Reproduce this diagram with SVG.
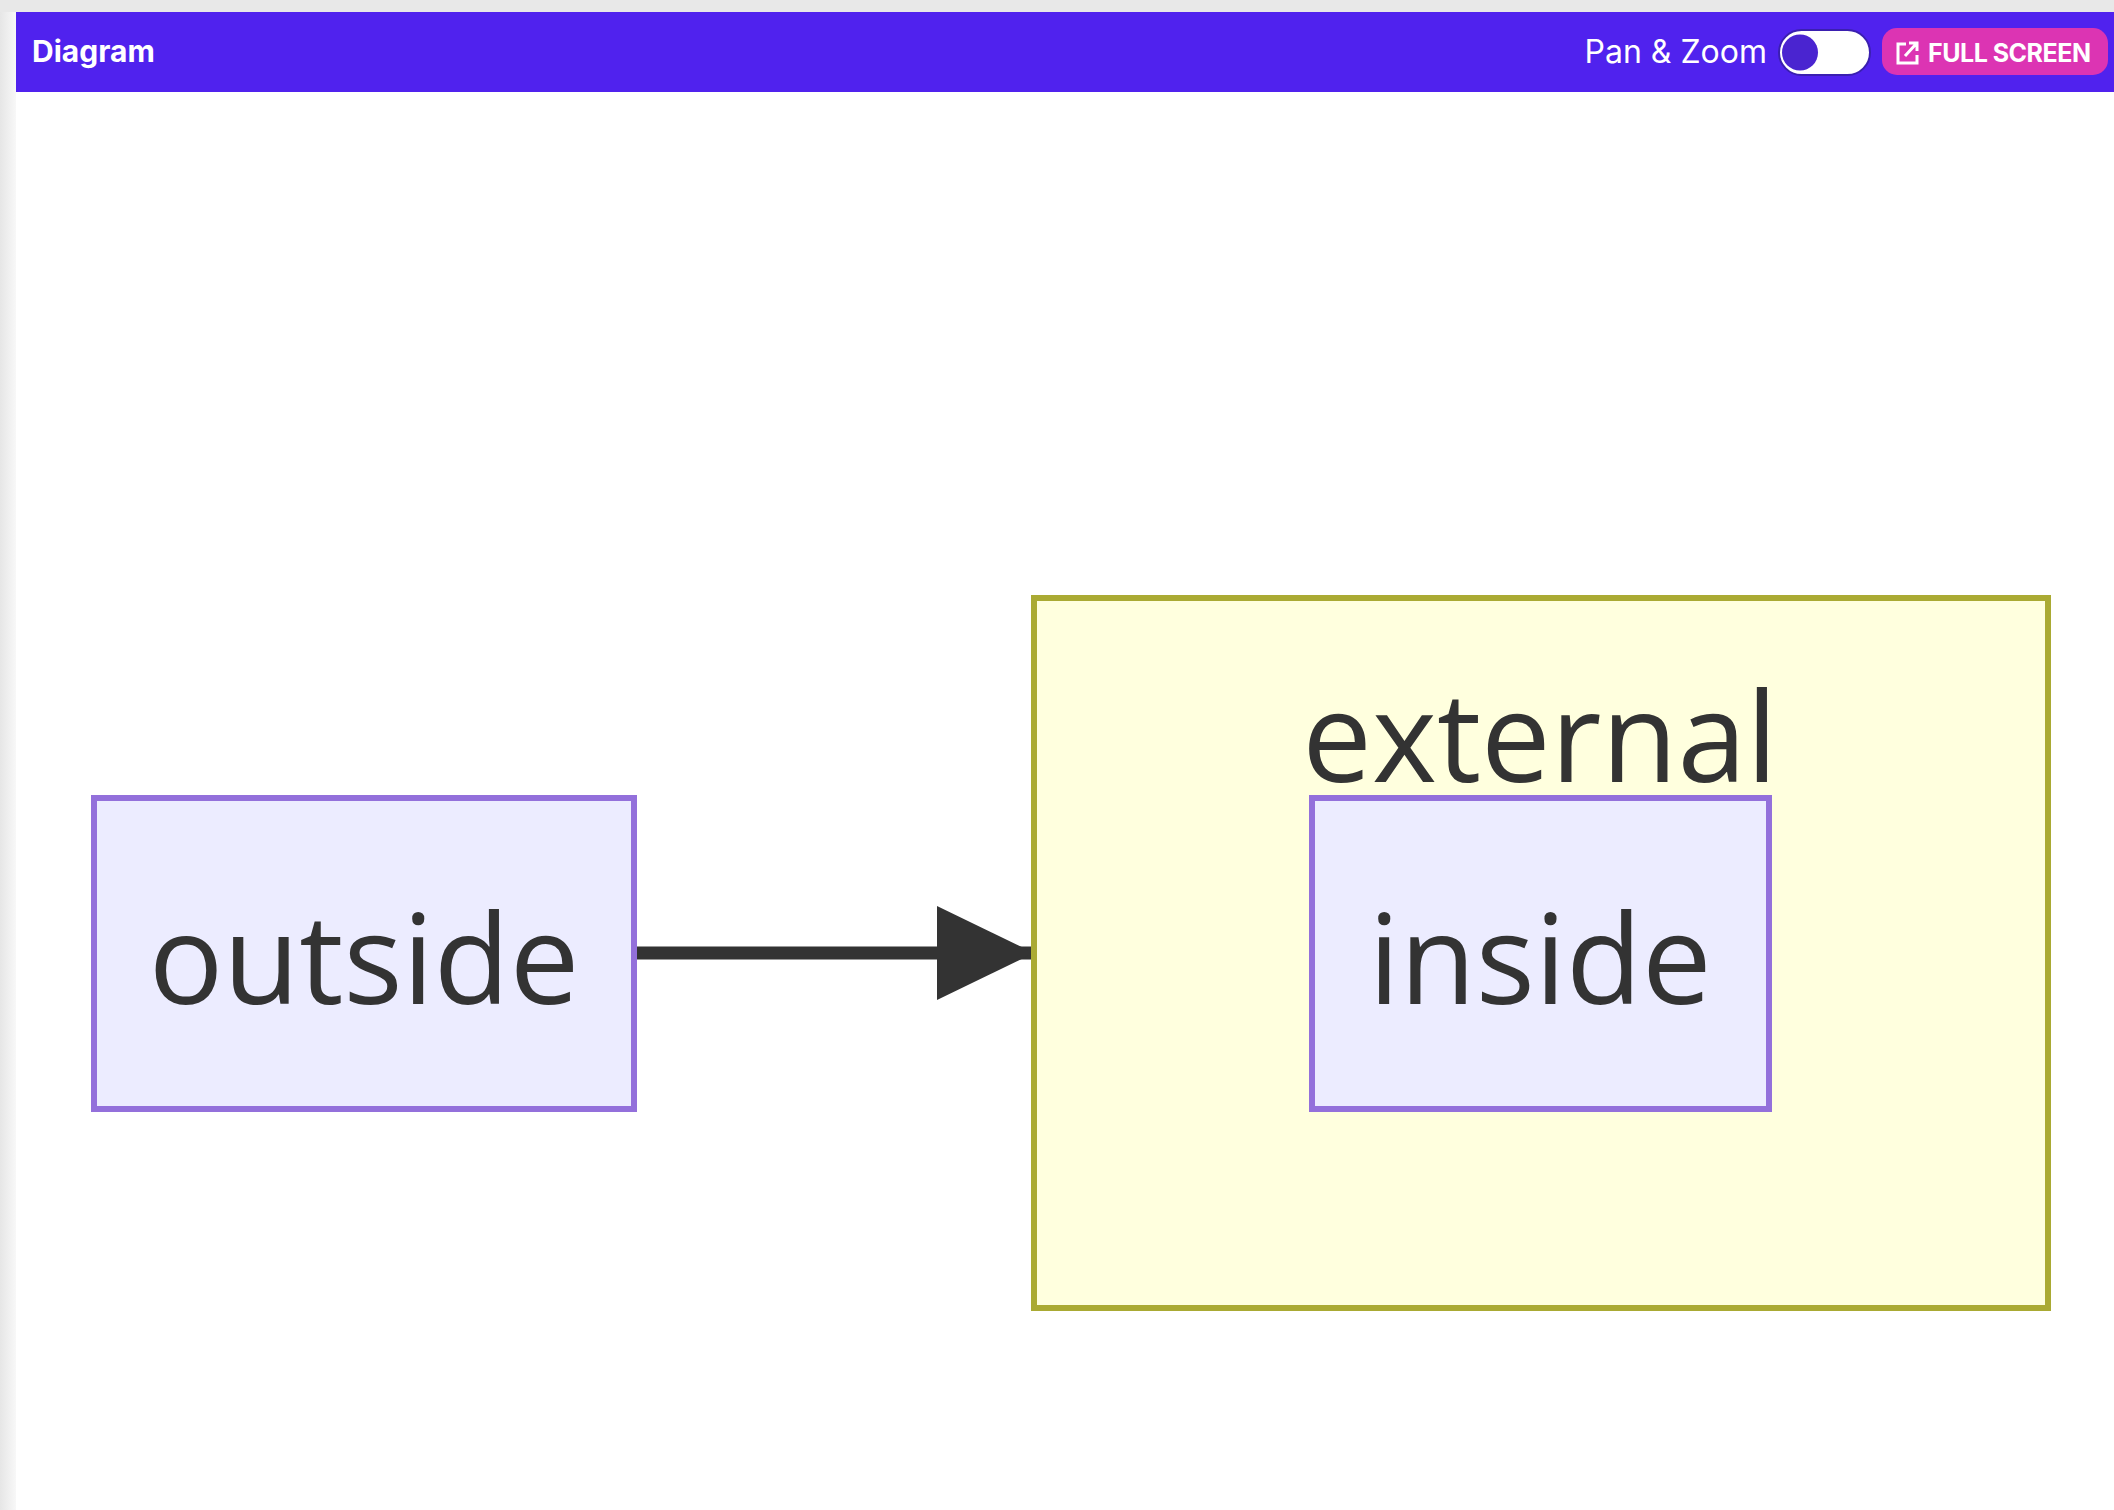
<svg xmlns="http://www.w3.org/2000/svg" width="2114" height="1510" viewBox="0 0 2114 1510">
<defs>
<linearGradient id="lg" x1="0" x2="1"><stop offset="0" stop-color="#e6e6e6"/><stop offset="1" stop-color="#f8f8f8"/></linearGradient>
<marker id="ah" markerUnits="userSpaceOnUse" markerWidth="100" markerHeight="100" refX="97" refY="47" orient="auto"><path d="M0,0 L97,47 L0,94 Z" fill="#333"/></marker>
</defs>
<style>
.node rect{fill:#ECECFF;stroke:#9370DB;stroke-width:6}
.lbl{font-family:"Open Sans","Liberation Sans",sans-serif;fill:#333;font-size:124px;text-anchor:middle}
.ui{font-family:Inter,"Liberation Sans",sans-serif;fill:#fff}
</style>
<rect width="2114" height="1510" fill="#fff"/>
<rect x="0" y="0" width="2114" height="12" fill="#e8e8e8"/>
<rect x="0" y="12" width="16" height="1498" fill="url(#lg)"/>
<g id="header">
<rect x="16" y="12" width="2098" height="80" fill="#5022ee"/>
<text class="ui" x="32" y="62" font-size="30" font-weight="700">Diagram</text>
<text class="ui" x="1767" y="63" font-size="32" text-anchor="end">Pan &amp; Zoom</text>
<rect x="1779" y="30" width="91" height="45" rx="22.5" fill="#fff" stroke="#3a1fb0" stroke-width="2"/>
<circle cx="1800" cy="52.5" r="18" fill="#4a24d0"/>
<rect x="1882" y="28" width="226" height="47" rx="15" fill="#dc34b3"/>
<g fill="none" stroke="#fff" stroke-width="3"><path d="M1906,44 h-8 v19 h19 v-8"/><path d="M1905,56 L1916,44 M1909,43 h8 v8"/></g>
<text class="ui" x="1928" y="62" font-size="25" font-weight="700" textLength="163">FULL SCREEN</text>
</g>
<g id="connectors">
<line x1="636" y1="953" x2="1034" y2="953" stroke="#333" stroke-width="13" marker-end="url(#ah)"/>
</g>
<g id="external">
<rect x="1034" y="598" width="1014" height="710" fill="#ffffde" stroke="#aaaa33" stroke-width="6"/>
<text class="lbl" x="1540" y="782">external</text>
</g>
<g id="outside" class="node">
<rect x="94" y="798" width="540" height="311"/>
<text class="lbl" x="364" y="1004">outside</text>
</g>
<g id="inside" class="node">
<rect x="1312" y="798" width="457" height="311"/>
<text class="lbl" x="1540" y="1004">inside</text>
</g>
</svg>
